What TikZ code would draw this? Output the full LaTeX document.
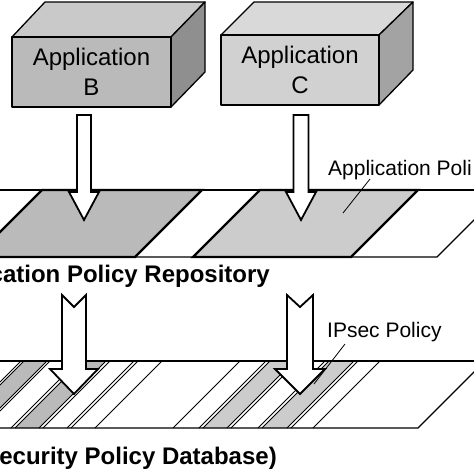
\documentclass[tikz,border=0pt]{standalone}
\usepackage{fontspec}
\setmainfont{Liberation Sans}
\definecolor{boxBfront}{gray}{0.73}
\definecolor{boxBtop}{gray}{0.79}
\definecolor{boxBside}{gray}{0.56}
\definecolor{boxCfront}{gray}{0.82}
\definecolor{boxCtop}{gray}{0.85}
\definecolor{boxCside}{gray}{0.64}
\definecolor{grayA}{gray}{0.73}
\definecolor{grayB}{gray}{0.80}
\begin{document}
\begin{tikzpicture}[x=1pt,y=-1pt,
  boxline/.style={draw=black, line width=1.3pt, line join=round},
  bandline/.style={draw=black, line width=1.2pt},
  thickline/.style={draw=black, line width=2.2pt, line join=miter},
  thinline/.style={draw=black, line width=0.9pt},
  blockarrow/.style={draw=black, fill=white, line width=1.8pt, line join=miter},
  leader/.style={draw=black, line width=0.8pt},
  lbl/.style={font=\fontsize{21}{25}\selectfont, inner sep=0pt, anchor=base west},
  boxtxt/.style={font=\fontsize{24}{30}\selectfont, inner sep=0pt, anchor=base},
  titletxt/.style={font=\fontsize{24}{28}\selectfont\bfseries, inner sep=0pt, anchor=base east}]
\useasboundingbox (0,0) rectangle (474,474);
\clip (0,0) rectangle (474,474);
\fill[white] (0,0) rectangle (474,474);

% ---------- Box B ----------
\filldraw[boxline, fill=boxBtop] (12,37) -- (45,2) -- (205,2) -- (171,37) -- cycle;
\filldraw[boxline, fill=boxBside] (171,37) -- (205,2) -- (205,72) -- (171,107) -- cycle;
\filldraw[boxline, fill=boxBfront] (12,37) rectangle (171,107);
\node[boxtxt] (bA) at (91.5,65) {Application};
\node[boxtxt] (bB) at (91.5,95) {B};

% ---------- Box C ----------
\filldraw[boxline, fill=boxCtop] (221,35) -- (254,2) -- (413,2) -- (379,35) -- cycle;
\filldraw[boxline, fill=boxCside] (379,35) -- (413,2) -- (413,70) -- (379,105) -- cycle;
\filldraw[boxline, fill=boxCfront] (221,35) rectangle (379,105);
\node[boxtxt] (cA) at (300,63) {Application};
\node[boxtxt] (cC) at (300,93) {C};

% ---------- Application policy band ----------
\filldraw[thickline, fill=grayA] (42,190) -- (202,190) -- (135,257) -- (-25,257) -- cycle;
\filldraw[thickline, fill=grayB] (260,190) -- (418,190) -- (351,257) -- (193,257) -- cycle;
\draw[bandline] (-5,190) -- (510,190);
\draw[bandline] (-5,257) -- (437,257) -- (510,184);

% ---------- IPsec band ----------
\foreach \a/\b/\c in {24/47/grayA, 82/106/grayA, 270/294/grayB, 329/354/grayB}
  \fill[\c] (\a,361) -- (\b,361) -- (\b-67,428) -- (\a-67,428) -- cycle;
\foreach \t in {21,24,47,50,78,82,106,110,134,138,162,240,266,270,294,298,325,329,354,358,380}
  \draw[thinline] (\t,361) -- (\t-67,428);
\draw[bandline] (-5,361) -- (490,361);
\draw[bandline] (-5,428) -- (418,428) -- (490,356);

% ---------- leader lines and labels ----------
\node[lbl] (lapp) at (328,175) {Application Poli};
\coordinate (la1) at (370,179);
\coordinate (la2) at (343,213);
\draw[leader] (la1) -- (la2);
\node[lbl] (lip) at (327,337) {IPsec Policy};
\coordinate (li1) at (345,344);
\coordinate (li2) at (314,384);
\draw[leader] (li1) -- (li2);

% ---------- block arrows ----------
\draw[blockarrow] (77,115) -- (91,115) -- (91,192) -- (99,192) -- (84,220) -- (69,192) -- (77,192) -- cycle;
\draw[blockarrow] (293.5,115) -- (308.5,115) -- (308.5,192) -- (316,192) -- (301,220) -- (286,192) -- (293.5,192) -- cycle;
\draw[blockarrow] (62,295) -- (74,307) -- (86,295) -- (86,369) -- (98,369) -- (74,394) -- (50,369) -- (62,369) -- cycle;
\draw[blockarrow] (287,295) -- (300,307) -- (313,295) -- (313,369) -- (325,369) -- (300,394) -- (275,369) -- (287,369) -- cycle;

% ---------- titles ----------
\node[titletxt] (trep) at (270,282) {cation Policy Repository};
\node[titletxt] (tspd) at (277,464) {ecurity Policy Database)};
\end{tikzpicture}
\end{document}
